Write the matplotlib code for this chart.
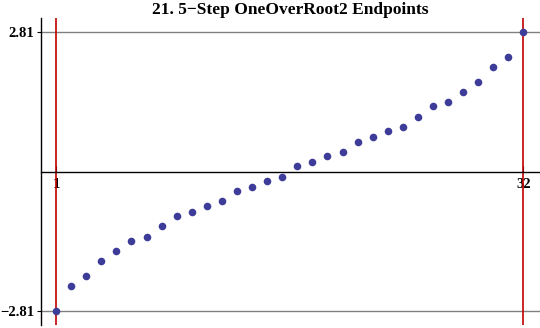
import matplotlib
matplotlib.use("Agg")
import matplotlib.pyplot as plt

# endpoints of the 32 walks (sorted)
steps = list(range(1, 33))
endpoints = [-2.8107, -2.3107, -2.1036, -1.8107, -1.6036, -1.3964, -1.3107, -1.1036,
             -0.8964, -0.8107, -0.6893, -0.6036, -0.3964, -0.3107, -0.1893, -0.1036,
             0.1036, 0.1893, 0.3107, 0.3964, 0.6036, 0.6893, 0.8107, 0.8964,
             1.1036, 1.3107, 1.3964, 1.6036, 1.8107, 2.1036, 2.3107, 2.8107]
xticks = [1, 32]
yticks = [-2.81, 2.81]
title = "21. 5\u2212Step OneOverRoot2 Endpoints"

plt.rcParams['font.family'] = ['Liberation Serif', 'DejaVu Serif']

fig = plt.figure(figsize=(5.4, 3.28), dpi=100)
ax = fig.add_axes([41/540, 3/328, 499/540, 307/328])

for yv in yticks:
    ax.axhline(yv, color='#808080', lw=1.0, zorder=1)
for xv in xticks:
    ax.axvline(xv, color='#c00000', lw=1.2, zorder=2)

ax.scatter(steps, endpoints, s=30, color='#3d3d99', zorder=3, linewidths=0)

ax.set_xlim(0, 33.1)
ax.set_ylim(-3.09, 3.09)

for s in ['top', 'right']:
    ax.spines[s].set_visible(False)
ax.spines['bottom'].set_position(('data', 0))
ax.spines['left'].set_position(('data', 0))
ax.spines['bottom'].set_linewidth(1.0)
ax.spines['left'].set_linewidth(1.0)

ax.set_xticks(xticks)
ax.set_xticklabels([str(v) for v in xticks], fontweight='bold', fontsize=10.5)
ax.set_yticks(yticks)
ax.set_yticklabels(["\u22122.81", "2.81"], fontweight='bold', fontsize=10.5)
ax.tick_params(axis='x', direction='in', length=4, pad=5)
ax.tick_params(axis='y', direction='out', length=3, pad=2)

ax.set_title(title, fontweight='bold', fontsize=12.5, pad=2)

fig.savefig("out.png", dpi=100)
